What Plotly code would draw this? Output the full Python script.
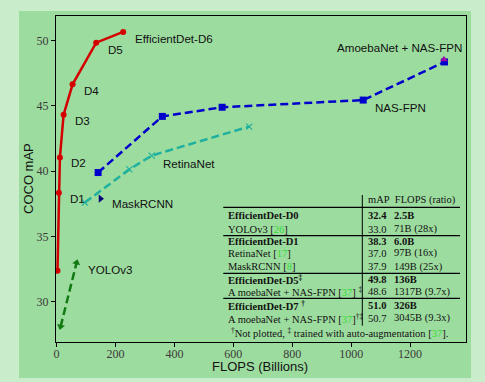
import plotly.graph_objects as go

# ---------------- data ----------------
eff_flops = [3, 7.8, 11.2, 23.8, 54.3, 134.5, 226]
eff_map = [32.37, 38.35, 41.05, 44.33, 46.66, 49.85, 50.67]

nas_flops = [141, 359, 562, 1041, 1317]
nas_map = [39.9, 44.2, 44.9, 45.45, 48.37]

ret_flops = [96, 247, 323, 654]
ret_map = [37.6, 40.14, 41.2, 43.42]

yolo_flops = [13.6, 68]
yolo_map = [28.1, 33.0]

mask_flops = [149]
mask_map = [37.9]

amoeba_flops = [1315]
amoeba_map = [48.56]

x_ticks = [0, 200, 400, 600, 800, 1000, 1200]
y_ticks = [30, 35, 40, 45, 50]

table_header = "mAP&nbsp;&nbsp;FLOPS (ratio)"
table_names = ["<b>EfficientDet-D0</b>", "YOLOv3 [{g}26{e}]", "<b>EfficientDet-D1</b>",
               "RetinaNet [{g}17{e}]", "MaskRCNN [{g}8{e}]", "<b>EfficientDet-D5<sup>‡</sup></b>",
               "A moebaNet + NAS-FPN [{g}37{e}] <sup>‡</sup>", "<b>EfficientDet-D7 <sup>†</sup></b>",
               "A moebaNet + NAS-FPN [{g}37{e}]<sup>†‡</sup>"]
table_map = ["<b>32.4</b>", "33.0", "<b>38.3</b>", "37.0", "37.9", "<b>49.8</b>", "48.6", "<b>51.0</b>", "50.7"]
table_flops = ["<b>2.5B</b>", "71B (28x)", "<b>6.0B</b>", "97B (16x)", "149B (25x)", "<b>136B</b>",
               "1317B (9.7x)", "<b>326B</b>", "3045B (9.3x)"]
footnote = "<sup>†</sup>Not plotted, <sup>‡</sup> trained with auto-augmentation [{g}37{e}]."

# ---------------- layout helpers ----------------
W, H = 485, 382
L, R, T, B = 56, 466, 16, 342
pw, ph = R - L, B - T


def px(x):
    return (x - L) / pw


def py(y):
    return (B - y) / ph


GREEN_REF = "<span style='color:#33dd33'>"
END = "</span>"
OUTER = "#c9edcb"
INNER = "#9ddc9f"

fig = go.Figure()

fig.add_trace(go.Scatter(x=ret_flops, y=ret_map, mode="lines+markers",
                         line=dict(color="#1fb09e", width=2.5, dash="8px,4px"),
                         marker=dict(symbol="x-thin", size=6, line=dict(color="#1fb09e", width=1.2))))
fig.add_trace(go.Scatter(x=nas_flops, y=nas_map, mode="lines+markers",
                         line=dict(color="#0000cc", width=2.5, dash="8px,4px"),
                         marker=dict(symbol="square", size=7, color="#0000cc")))
fig.add_trace(go.Scatter(x=amoeba_flops, y=amoeba_map, mode="markers",
                         marker=dict(symbol="triangle-up", size=7, color="#9a0aa8")))
fig.add_trace(go.Scatter(x=yolo_flops, y=yolo_map, mode="lines+markers",
                         line=dict(color="#127a12", width=2.5, dash="8px,4px"),
                         marker=dict(symbol=["triangle-down", "triangle-up"], angle=[14, 14],
                                     size=7, color="#127a12")))
fig.add_trace(go.Scatter(x=mask_flops, y=mask_map, mode="markers",
                         marker=dict(symbol="triangle-right", size=7, color="#00007a")))
fig.add_trace(go.Scatter(x=eff_flops, y=eff_map, mode="lines+markers",
                         line=dict(color="#d40000", width=2.5),
                         marker=dict(symbol="circle", size=6, color="#d40000")))

ann = []
lab_font = dict(family="Liberation Sans, Arial", size=11.6, color="#111")

labels = [
    ("EfficientDet-D6", 258, 50.13), ("D5", 167, 49.36), ("D4", 86, 46.2), ("D3", 55, 43.85),
    ("D2", 41, 40.7), ("D1", 38, 37.94), ("MaskRCNN", 180, 37.5), ("RetinaNet", 356, 40.63),
    ("NAS-FPN", 1073, 44.92), ("AmoebaNet + NAS-FPN", 946, 49.44), ("YOLOv3", 100, 32.5),
]
for t, x, y in labels:
    ann.append(dict(text=t, x=x, y=y, xref="x", yref="y", xanchor="left", yanchor="middle",
                    showarrow=False, font=lab_font))

ann.append(dict(text="COCO mAP", x=px(28), y=py(178), xref="paper", yref="paper",
                xanchor="center", yanchor="middle", textangle=-90, showarrow=False,
                font=dict(family="Liberation Sans, Arial", size=13, color="#111")))
ann.append(dict(text="FLOPS (Billions)", x=px(260), y=py(366), xref="paper", yref="paper",
                xanchor="center", yanchor="middle", showarrow=False,
                font=dict(family="Liberation Sans, Arial", size=13, color="#111")))

tfont = dict(family="Liberation Serif, Times New Roman", size=10.5, color="#111")
row_y = [215.7, 229, 241.7, 253.3, 266.7, 279.3, 291.7, 305.7, 318.3]
ann.append(dict(text=table_header, x=px(365.7), y=py(200),
                xref="paper", yref="paper", xanchor="left", yanchor="middle", showarrow=False, font=tfont))
for nm, mp, fl, yy in zip(table_names, table_map, table_flops, row_y):
    ann.append(dict(text=nm.format(g=GREEN_REF, e=END), x=px(225.7), y=py(yy), xref="paper", yref="paper",
                    xanchor="left", yanchor="middle", showarrow=False, font=tfont))
    ann.append(dict(text=mp, x=px(365.7), y=py(yy), xref="paper", yref="paper",
                    xanchor="left", yanchor="middle", showarrow=False, font=tfont))
    ann.append(dict(text=fl, x=px(392.3), y=py(yy), xref="paper", yref="paper",
                    xanchor="left", yanchor="middle", showarrow=False, font=tfont))
ann.append(dict(text=footnote.format(g=GREEN_REF, e=END), x=px(339), y=py(332.3), xref="paper", yref="paper",
                xanchor="center", yanchor="middle", showarrow=False, font=tfont))

shapes = [
    dict(type="rect", xref="paper", yref="paper", x0=px(19), x1=px(471), y0=py(378), y1=py(11),
         fillcolor=INNER, line=dict(width=0), layer="below"),
]
for yy in [207.3, 235.7, 273.3, 298.3]:
    shapes.append(dict(type="line", xref="paper", yref="paper", x0=px(223.3), x1=px(460),
                       y0=py(yy), y1=py(yy), line=dict(color="black", width=1.3)))
shapes.append(dict(type="line", xref="paper", yref="paper", x0=px(362.3), x1=px(362.3),
                   y0=py(195), y1=py(325.7), line=dict(color="black", width=1)))

tickfont = dict(family="Liberation Serif, Times New Roman", size=12, color="#3a3a3a")
fig.update_layout(
    width=W, height=H, margin=dict(l=L, r=W - R, t=T, b=H - B, pad=0, autoexpand=False),
    paper_bgcolor=OUTER, plot_bgcolor=INNER, showlegend=False,
    annotations=ann, shapes=shapes,
    xaxis=dict(range=[-2, 1390], tickvals=x_ticks, showgrid=False, automargin=False,
               zeroline=False, showline=True, linecolor="black", linewidth=1.2, mirror=True,
               ticks="outside", ticklen=4, tickcolor="black", tickfont=tickfont,
               ticklabelstandoff=-4),
    yaxis=dict(range=[26.92, 51.89], tickvals=y_ticks, showgrid=False, automargin=False,
               zeroline=False, showline=True, linecolor="black", linewidth=1.2, mirror=True,
               ticks="outside", ticklen=4, tickcolor="black", tickfont=tickfont),
)

fig.write_html("out.html", config={"displayModeBar": False},
               post_script="document.body.style.margin='0';document.body.style.background='%s';" % OUTER)
